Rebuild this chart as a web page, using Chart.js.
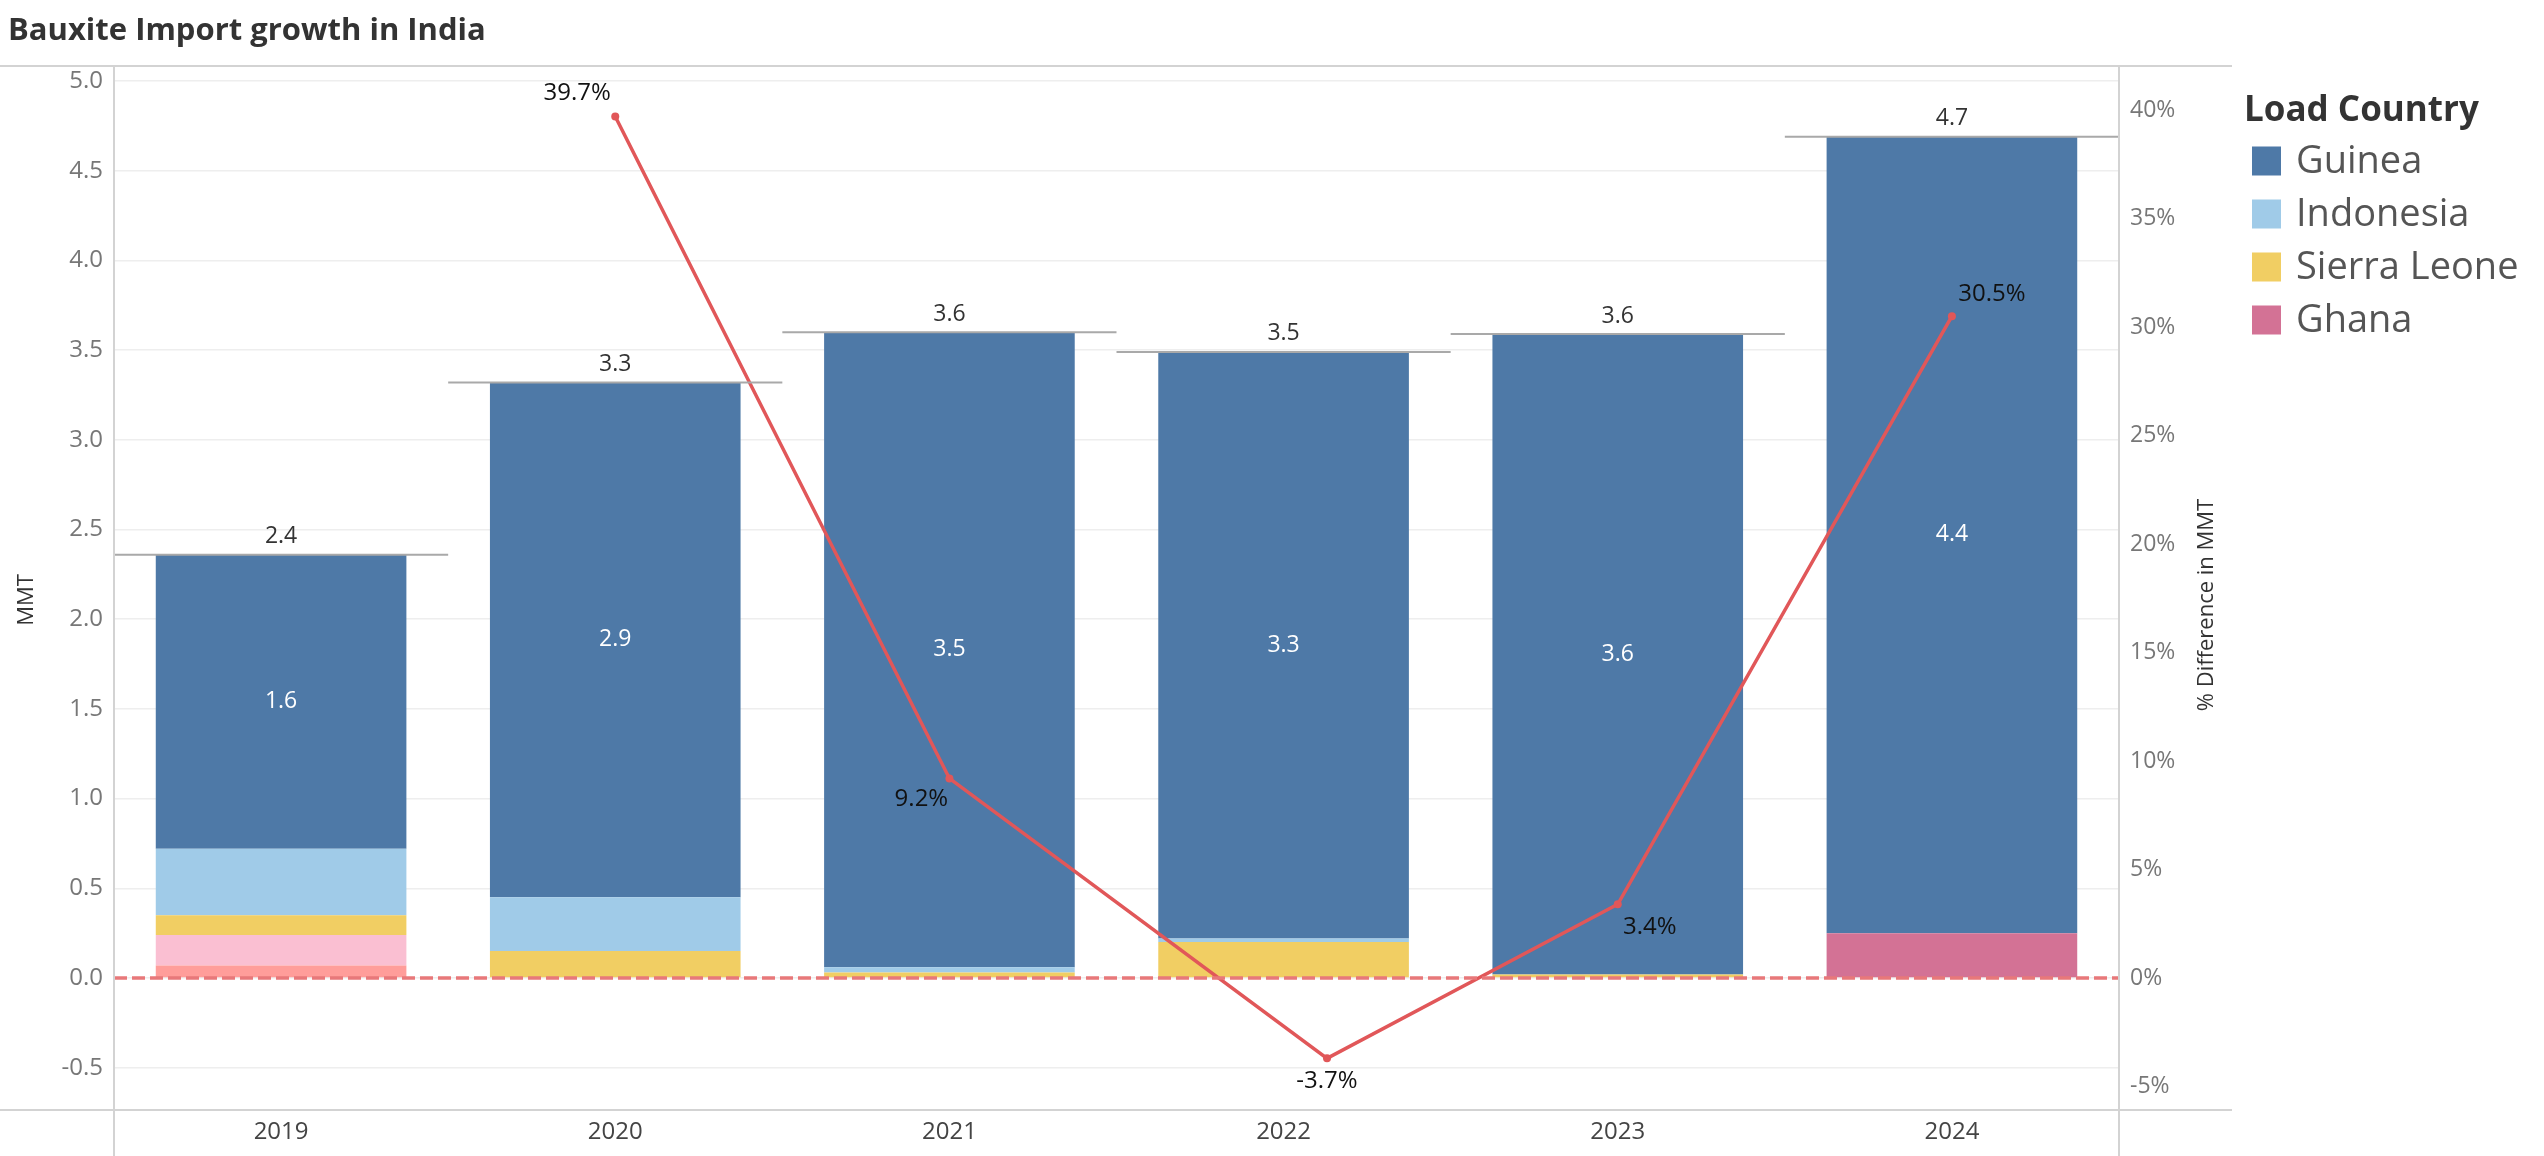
<!DOCTYPE html>
<html>
<head>
<meta charset="utf-8">
<script src="https://cdn.jsdelivr.net/npm/chart.js@4.4.1/dist/chart.umd.min.js"></script>
<style>
  html, body { margin: 0; padding: 0; background: #ffffff; }
  #wrap { width: 2544px; height: 1156px; position: relative; }
</style>
</head>
<body>
<div id="wrap"><canvas id="c" width="2544" height="1156"></canvas></div>
<script>
// ---------------- DATA ----------------
const chartTitle = 'Bauxite Import growth in India';
const legendTitle = 'Load Country';
const years = ['2019', '2020', '2021', '2022', '2023', '2024'];
// MMT by load country (stacked bottom -> top)
const otherSalmon = [0.07, 0, 0, 0, 0, 0];
const otherPink   = [0.17, 0, 0, 0, 0, 0];
const ghana       = [0, 0, 0, 0, 0, 0.25];
const sierraLeone = [0.11, 0.15, 0.03, 0.20, 0.02, 0];
const indonesia   = [0.37, 0.30, 0.03, 0.02, 0, 0];
const guinea      = [1.64, 2.87, 3.54, 3.27, 3.57, 4.44];
// % difference in MMT (year over year) and its position on the time axis
const pctChange   = [null, 39.7, 9.2, -3.7, 3.4, 30.5];
const pctYearPos  = [2019, 2020, 2021, 2022.13, 2023, 2024];
const legendNames = ['Guinea', 'Indonesia', 'Sierra Leone', 'Ghana'];

// ---------------- STYLE ----------------
const FONT = '"Open Sans", "Noto Sans", sans-serif';
const colors = {
  'Guinea': '#4e79a7', 'Indonesia': '#a0cbe8', 'Sierra Leone': '#f1ce63',
  'Ghana': '#d37295', 'Other 1': '#ff9d9a', 'Other 2': '#fabfd2'
};
const frameColor = '#d3d3d3';

function barDs(label, data) {
  return { type: 'bar', label, data, backgroundColor: colors[label], borderWidth: 0,
           yAxisID: 'y', xAxisID: 'x', order: 2, grouped: false,
           categoryPercentage: 1.0, barPercentage: 0.75 };
}
const barSets = [
  barDs('Other 1', otherSalmon),
  barDs('Other 2', otherPink),
  barDs('Ghana', ghana),
  barDs('Sierra Leone', sierraLeone),
  barDs('Indonesia', indonesia),
  barDs('Guinea', guinea)
];
const lineSet = {
  type: 'line', label: '% Difference in MMT',
  data: pctChange.map((v, i) => v === null ? null : { x: pctYearPos[i], y: v }).filter(p => p),
  xAxisID: 'xLine', yAxisID: 'y2', order: 0,
  borderColor: '#e15759', backgroundColor: '#e15759', borderWidth: 3.5,
  pointRadius: 4, pointBackgroundColor: '#e15759', pointBorderWidth: 0, tension: 0
};

const decorPlugin = {
  id: 'decor',
  beforeDraw(chart) {
    const ctx = chart.ctx;
    ctx.save();
    ctx.fillStyle = '#ffffff';
    ctx.fillRect(0, 0, chart.width, chart.height);
    ctx.restore();
  },
  afterDatasetsDraw(chart) {
    const ctx = chart.ctx;
    const ca = chart.chartArea;
    const xs = chart.scales.x, ys = chart.scales.y;
    ctx.save();
    // zero reference line (dashed)
    const y0 = ys.getPixelForValue(0);
    ctx.strokeStyle = '#e8787a';
    ctx.lineWidth = 3.5;
    ctx.setLineDash([13, 5]);
    ctx.beginPath(); ctx.moveTo(ca.left, y0); ctx.lineTo(ca.right, y0); ctx.stroke();
    ctx.setLineDash([]);

    // totals with reference lines
    const half = (xs.getPixelForValue(1) - xs.getPixelForValue(0)) / 2;
    ctx.font = '23px ' + FONT;
    ctx.textAlign = 'center'; ctx.textBaseline = 'middle';
    years.forEach((yr, i) => {
      let tot = 0;
      barSets.forEach(d => { tot += d.data[i]; });
      const cx = xs.getPixelForValue(i);
      const ty = ys.getPixelForValue(tot);
      ctx.strokeStyle = '#a9a9a9'; ctx.lineWidth = 2;
      ctx.beginPath(); ctx.moveTo(cx - half, ty); ctx.lineTo(cx + half, ty); ctx.stroke();
      ctx.fillStyle = '#333333';
      ctx.fillText(tot.toFixed(1), cx, ty - 18);
    });

    // Guinea labels inside bars
    const gi = barSets.findIndex(d => d.label === 'Guinea');
    const gm = chart.getDatasetMeta(gi);
    ctx.fillStyle = '#ffffff';
    gm.data.forEach((el, i) => {
      ctx.fillText(guinea[i].toFixed(1), el.x, (el.y + el.base) / 2);
    });

    // percent labels
    const lm = chart.getDatasetMeta(barSets.length);
    const offs = [[-38, -23], [-28, 21], [0, 23], [32, 23], [40, -22]];
    ctx.font = '24px ' + FONT;
    ctx.fillStyle = '#111111';
    const vals = pctChange.filter(v => v !== null);
    lm.data.forEach((el, k) => {
      const o = offs[k] || [0, -20];
      ctx.fillText(vals[k].toFixed(1) + '%', el.x + o[0], el.y + o[1]);
    });
    ctx.restore();
  },
  afterDraw(chart) {
    const ctx = chart.ctx;
    const ca = chart.chartArea;
    ctx.save();
    // frame lines
    ctx.strokeStyle = frameColor; ctx.lineWidth = 2;
    ctx.beginPath();
    ctx.moveTo(0, ca.top); ctx.lineTo(2232, ca.top);
    ctx.moveTo(0, ca.bottom); ctx.lineTo(2232, ca.bottom);
    ctx.moveTo(ca.left, ca.top); ctx.lineTo(ca.left, chart.height);
    ctx.moveTo(ca.right, ca.top); ctx.lineTo(ca.right, chart.height);
    ctx.stroke();

    // chart title
    ctx.fillStyle = '#333333';
    ctx.font = 'bold 31px ' + FONT;
    ctx.textAlign = 'left'; ctx.textBaseline = 'middle';
    ctx.fillText(chartTitle, 8, 31);

    // axis titles (both read bottom-to-top)
    ctx.font = '22px ' + FONT;
    ctx.fillStyle = '#333333';
    ctx.textAlign = 'center';
    ctx.save(); ctx.translate(27, 600); ctx.rotate(-Math.PI / 2);
    ctx.fillText('MMT', 0, 0); ctx.restore();
    ctx.save(); ctx.translate(2207, 605); ctx.rotate(-Math.PI / 2);
    ctx.fillText('% Difference in MMT', 0, 0); ctx.restore();

    // legend
    ctx.textAlign = 'left';
    ctx.font = 'bold 35px ' + FONT;
    ctx.fillStyle = '#333333';
    ctx.fillText(legendTitle, 2244, 111);
    ctx.font = '38px ' + FONT;
    legendNames.forEach((n, i) => {
      const cy = 161 + i * 53;
      ctx.fillStyle = colors[n];
      ctx.fillRect(2252, cy - 14.5, 29, 29);
      ctx.fillStyle = '#555555';
      ctx.fillText(n, 2296, cy + 1);
    });
    ctx.restore();
  }
};

function roundTicks(step) {
  return function (scale) {
    scale.ticks = scale.ticks.filter(t => Math.abs(t.value / step - Math.round(t.value / step)) < 1e-6);
  };
}

function build() {
  new Chart(document.getElementById('c'), {
    type: 'bar',
    data: { labels: years, datasets: [...barSets, lineSet] },
    options: {
      responsive: false,
      animation: false,
      layout: { padding: { top: 66, right: 300, bottom: 0, left: 0 } },
      plugins: { legend: { display: false }, tooltip: { enabled: false }, title: { display: false } },
      scales: {
        x: {
          type: 'category', position: 'bottom', stacked: true, offset: true,
          grid: { display: false, drawTicks: false },
          border: { display: false },
          ticks: { color: '#444444', font: { family: FONT, size: 24 }, padding: 8, maxRotation: 0 },
          afterFit(s) { s.height = 46; }
        },
        xLine: {
          type: 'linear', display: false, min: 2018.5, max: 2024.5, offset: false,
          grid: { offset: false }
        },
        y: {
          type: 'linear', position: 'left', stacked: true,
          min: -0.736, max: 5.084,
          ticks: { stepSize: 0.5, includeBounds: false, color: '#777777', font: { family: FONT, size: 24 }, padding: 11,
                   callback: v => Number(v).toFixed(1) },
          afterBuildTicks: roundTicks(0.5),
          grid: { color: '#eeeeee', lineWidth: 1.5, drawTicks: false },
          border: { display: false },
          afterFit(s) { s.width = 114; }
        },
        y2: {
          type: 'linear', position: 'right',
          min: -6.08, max: 42.03,
          ticks: { stepSize: 5, includeBounds: false, color: '#777777', font: { family: FONT, size: 23 }, padding: 11,
                   callback: v => Math.round(v) + '%' },
          afterBuildTicks: roundTicks(5),
          grid: { display: false, drawTicks: false },
          border: { display: false },
          afterFit(s) { s.width = 125; }
        }
      }
    },
    plugins: [decorPlugin]
  });
}

const fontLoads = [
  '29px "Open Sans"', 'bold 29px "Open Sans"'
].map(f => document.fonts.load(f).catch(() => null));
Promise.all(fontLoads).then(build, build);
</script>
</body>
</html>
